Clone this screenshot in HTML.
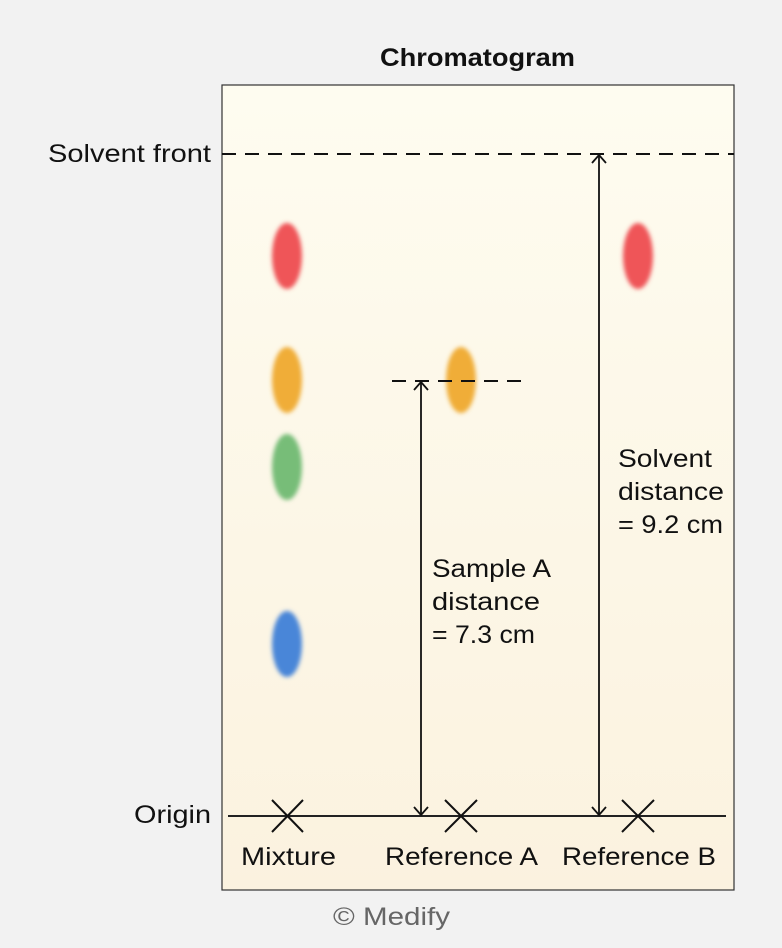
<!DOCTYPE html>
<html><head><meta charset="utf-8"><style>
html,body{margin:0;padding:0;background:#f2f2f2;}
svg{display:block;}
text{font-family:"Liberation Sans",sans-serif;font-size:25px;fill:#111;}
</style></head><body>
<svg width="782" height="948" viewBox="0 0 782 948" xmlns="http://www.w3.org/2000/svg">
<defs>
<linearGradient id="pg" x1="0" y1="0" x2="0" y2="1">
<stop offset="0" stop-color="#fefcf0"/><stop offset="1" stop-color="#fbf2df"/>
</linearGradient>
<filter id="bl" x="-50%" y="-50%" width="200%" height="200%"><feGaussianBlur stdDeviation="2.2"/></filter>
</defs>
<rect x="0" y="0" width="782" height="948" fill="#f2f2f2"/>
<rect x="222" y="85" width="512" height="805" fill="url(#pg)" stroke="#333" stroke-width="1.2"/>
<text x="380" y="66" font-weight="bold" textLength="195" lengthAdjust="spacingAndGlyphs">Chromatogram</text>
<g filter="url(#bl)">
<ellipse cx="287" cy="256" rx="15" ry="33" fill="#ef5558"/>
<ellipse cx="287" cy="380" rx="15" ry="33" fill="#f0ad38"/>
<ellipse cx="287" cy="467" rx="15" ry="33" fill="#77bd78"/>
<ellipse cx="287" cy="644" rx="15" ry="33" fill="#4a86d8"/>
<ellipse cx="461" cy="380" rx="15" ry="33" fill="#f0ad38"/>
<ellipse cx="638" cy="256" rx="15" ry="33" fill="#ef5558"/>
</g>
<line x1="222" y1="154" x2="734" y2="154" stroke="#111" stroke-width="2" stroke-dasharray="14 9"/>
<line x1="392" y1="381" x2="530" y2="381" stroke="#111" stroke-width="2" stroke-dasharray="14 9"/>
<line x1="228" y1="816" x2="726" y2="816" stroke="#222" stroke-width="2"/>
<g stroke="#111" stroke-width="1.8" fill="none">
<line x1="421" y1="382" x2="421" y2="815"/>
<path d="M414,390 L421,382 L428,390 M414,807 L421,815 L428,807"/>
<line x1="599" y1="155" x2="599" y2="815"/>
<path d="M592,163 L599,155 L606,163 M592,807 L599,815 L606,807"/>
</g>
<g stroke="#111" stroke-width="2">
<path d="M272,800 L303,832 M303,800 L272,832"/>
<path d="M445,800 L477,832 M477,800 L445,832"/>
<path d="M622,800 L654,832 M654,800 L622,832"/>
</g>
<text x="48" y="162" textLength="163" lengthAdjust="spacingAndGlyphs">Solvent front</text>
<text x="134" y="823" textLength="77" lengthAdjust="spacingAndGlyphs">Origin</text>
<text x="241" y="865" textLength="95" lengthAdjust="spacingAndGlyphs">Mixture</text>
<text x="385" y="865" textLength="153" lengthAdjust="spacingAndGlyphs">Reference A</text>
<text x="562" y="865" textLength="154" lengthAdjust="spacingAndGlyphs">Reference B</text>
<text x="432" y="577" textLength="119" lengthAdjust="spacingAndGlyphs">Sample A</text>
<text x="432" y="610" textLength="108" lengthAdjust="spacingAndGlyphs">distance</text>
<text x="432" y="643" textLength="103" lengthAdjust="spacingAndGlyphs">= 7.3 cm</text>
<text x="618" y="467" textLength="94" lengthAdjust="spacingAndGlyphs">Solvent</text>
<text x="618" y="500" textLength="106" lengthAdjust="spacingAndGlyphs">distance</text>
<text x="618" y="533" textLength="105" lengthAdjust="spacingAndGlyphs">= 9.2 cm</text>
<text x="333" y="925" style="fill:#666" textLength="117" lengthAdjust="spacingAndGlyphs">© Medify</text>
</svg>
</body></html>
